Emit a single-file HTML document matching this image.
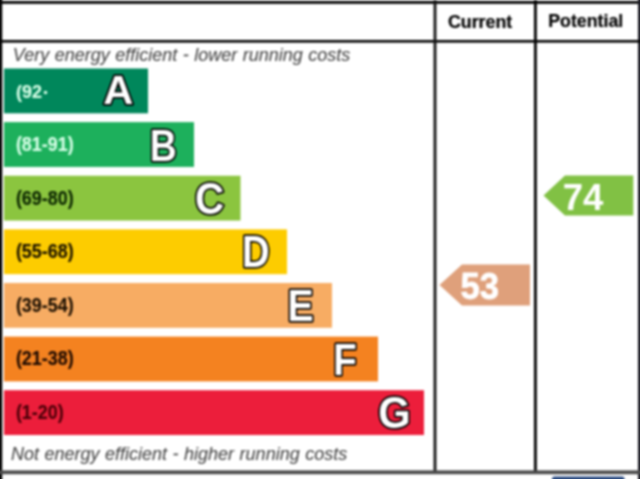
<!DOCTYPE html>
<html><head><meta charset="utf-8"><style>
html,body{margin:0;padding:0;background:#fff;width:640px;height:479px;overflow:hidden;position:relative}
#wrap{position:absolute;left:-20px;top:-20px;width:680px;height:519px;background:#fff;filter:blur(1.0px)}
svg{display:block;position:absolute;left:10px;top:10px}
text{font-family:"Liberation Sans",sans-serif}
.rng{font-weight:bold;font-size:19.5px;stroke-width:0.15px}
.let{font-weight:bold;font-size:43.5px;fill:#fff;stroke:#000;stroke-width:3.6;paint-order:stroke fill;stroke-linejoin:round}
.hdr{font-weight:bold;font-size:17.8px;fill:#000;stroke:#000;stroke-width:0.2px}
.desc{font-style:italic;font-size:18px;word-spacing:0.5px;fill:#484848;stroke:#484848;stroke-width:0.1px}
.num{font-weight:bold;font-size:37.3px;fill:#fff;stroke:#fff;stroke-width:0.8px}
</style></head><body>
<div id="wrap"><svg width="660" height="499" viewBox="-10 -10 660 499">
<g>
<rect x="-10" y="-10" width="660" height="499" fill="#fff"/>
<text x="12.8" y="60.6" class="desc">Very energy efficient - lower running costs</text>
<text x="11" y="459.5" class="desc">Not energy efficient - higher running costs</text>
<text x="448" y="27.5" class="hdr">Current</text>
<text x="548.2" y="27.3" class="hdr">Potential</text>
<rect x="4" y="68.50" width="144.00" height="44.8" fill="#00875b"/>
<text transform="translate(15.9,97.70) scale(1.0,1)" class="rng" fill="#d8ffe8" stroke="#d8ffe8" style="font-size:18px">(92</text>
<circle cx="45.5" cy="92.50" r="1.8" fill="#d8ffe8"/>
<text transform="translate(103.30,104.14) scale(1.02,1)" class="let" style="font-size:40.8px">A</text>
<rect x="4" y="122.12" width="190.00" height="44.8" fill="#1db05c"/>
<text transform="translate(15.9,150.92) scale(0.92,1)" class="rng" fill="#d8ffe8" stroke="#d8ffe8">(81-91)</text>
<text transform="translate(149.65,160.68) scale(0.86,1)" class="let" style="font-size:43.5px">B</text>
<rect x="4" y="175.74" width="236.50" height="44.8" fill="#8bc53f"/>
<text transform="translate(15.9,204.54) scale(0.92,1)" class="rng" fill="#0a2400" stroke="#0a2400">(69-80)</text>
<text transform="translate(195.11,213.70) scale(0.93,1)" class="let" style="font-size:43.5px">C</text>
<rect x="4" y="229.36" width="283.00" height="44.8" fill="#fdcc00"/>
<text transform="translate(15.9,258.16) scale(0.92,1)" class="rng" fill="#1a1200" stroke="#1a1200">(55-68)</text>
<text transform="translate(242.02,267.32) scale(0.88,1)" class="let" style="font-size:43.5px">D</text>
<rect x="4" y="282.98" width="328.00" height="44.8" fill="#f7ac63"/>
<text transform="translate(15.9,311.78) scale(0.92,1)" class="rng" fill="#1a0e00" stroke="#1a0e00">(39-54)</text>
<text transform="translate(287.40,320.94) scale(0.9,1)" class="let" style="font-size:43.5px">E</text>
<rect x="4" y="336.60" width="374.00" height="44.8" fill="#f48220"/>
<text transform="translate(15.9,365.40) scale(0.92,1)" class="rng" fill="#1a0800" stroke="#1a0800">(21-38)</text>
<text transform="translate(333.22,374.56) scale(0.885,1)" class="let" style="font-size:43.5px">F</text>
<rect x="4" y="390.22" width="420.00" height="44.8" fill="#ec1e3b"/>
<text transform="translate(15.9,419.02) scale(0.92,1)" class="rng" fill="#4a0008" stroke="#4a0008">(1-20)</text>
<text transform="translate(378.22,428.18) scale(0.96,1)" class="let" style="font-size:43.5px">G</text>
<polygon points="439.5,285 462,264.5 530,264.5 530,305.5 462,305.5" fill="#dfa07b"/>
<text transform="translate(460.4,299) scale(0.93,1)" class="num">53</text>
<polygon points="543.5,195.5 565,175.5 633.3,175.5 633.3,215.5 565,215.5" fill="#81c144"/>
<text transform="translate(562.8,209.7) scale(0.98,1)" class="num" style="stroke-width:0">74</text>
<!-- grid -->
<rect x="-10" y="1.0" width="660" height="2.8" fill="#000"/>
<rect x="-10" y="-10" width="12.2" height="499" fill="#000"/>
<rect x="638" y="-10" width="13" height="499" fill="#1a1a22"/>
<rect x="-10" y="40.0" width="660" height="2.6" fill="#000"/>
<rect x="433.6" y="0" width="2.8" height="472" fill="#111"/>
<rect x="534" y="0" width="2.8" height="472" fill="#000"/>
<rect x="-10" y="470.4" width="660" height="3.8" fill="#4a4a4a"/>
<rect x="552" y="476.6" width="72.5" height="12" rx="2.5" fill="#2a4a80"/>
</g>
</svg></div>
</body></html>
